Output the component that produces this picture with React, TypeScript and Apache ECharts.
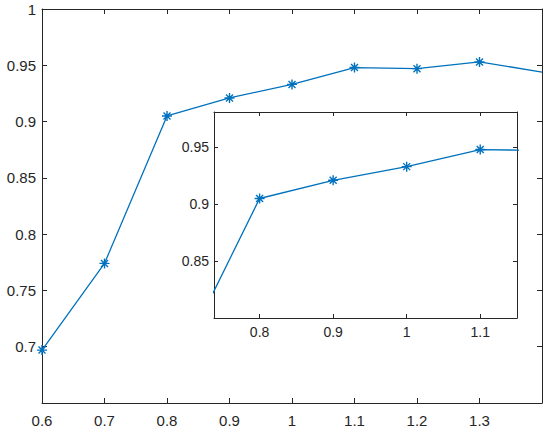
import React, { useEffect, useRef } from 'react';
import * as echarts from 'echarts';

// x values (main plot) and measured accuracy
const xValues = [0.6, 0.7, 0.8, 0.9, 1.0, 1.1, 1.2, 1.3, 1.4];
const accuracy = [0.697, 0.774, 0.905, 0.921, 0.933, 0.948, 0.947, 0.953, 0.944];

// axis ranges
const mainX = [0.6, 1.4];
const mainY = [0.65, 1];
const insetX = [0.738, 1.15];
const insetY = [0.8, 0.981];

const AXIS = '#262626';
const BLUE = '#0072BD';
const FONT = 'Liberation Sans';
const STAR = 'path://M0,5L10,5M5,0L5,10M1.5,1.5L8.5,8.5M1.5,8.5L8.5,1.5';

const pairs = xValues.map((x, i) => [x, accuracy[i]]);

const boxAxis = (gridIndex: number, position: string, range: number[], interval: number, tickLen: number, extra: any = {}) => ({
  type: 'value',
  gridIndex,
  position,
  min: range[0],
  max: range[1],
  interval,
  axisLine: { show: true, onZero: false, lineStyle: { color: AXIS, width: 1 } },
  axisTick: { show: true, inside: true, length: tickLen, lineStyle: { color: AXIS } },
  axisLabel: { show: false },
  splitLine: { show: false },
  ...extra,
});

export default function App() {
  const chartRef = useRef<HTMLDivElement>(null);

  useEffect(() => {
    document.body.style.margin = '0';
    const chart = echarts.init(chartRef.current, null, { renderer: 'svg' });

    const mainLabel = { show: true, color: AXIS, fontFamily: FONT, fontSize: 15 };
    const insetLabel = { show: true, color: AXIS, fontFamily: FONT, fontSize: 14 };

    const insetXAxis = (position: string, label: any) => {
      const a: any = boxAxis(1, position, insetX, 0.1, 4, { axisLabel: label });
      delete a.interval;
      a.minInterval = 0.1;
      a.maxInterval = 0.1;
      return a;
    };

    const line = (xi: number, yi: number) => ({
      type: 'line',
      xAxisIndex: xi,
      yAxisIndex: yi,
      data: pairs,
      clip: true,
      symbol: STAR,
      symbolSize: (_v: any, p: any) => (p.dataIndex === xValues.length - 1 ? 0 : 10),
      showAllSymbol: true,
      lineStyle: { color: BLUE, width: 1.3 },
      itemStyle: { color: BLUE, borderColor: BLUE, borderWidth: 1.4 },
      z: 3,
    });

    chart.setOption({
      animation: false,
      backgroundColor: '#fff',
      grid: [
        { left: 42, top: 9, right: 8, bottom: 33, containLabel: false },
        {
          left: 214, top: 112, right: 33, bottom: 118, containLabel: false,
          show: true, backgroundColor: '#fff', borderWidth: 0, z: 5,
        },
      ],
      xAxis: [
        boxAxis(0, 'bottom', mainX, 0.1, 5, {
          axisLabel: { ...mainLabel, margin: 10, showMaxLabel: false },
        }),
        boxAxis(0, 'top', mainX, 0.1, 5),
        { ...insetXAxis('bottom', { ...insetLabel, margin: 7, showMinLabel: false, showMaxLabel: false }), z: 6 },
        { ...insetXAxis('top', { show: false }), z: 6 },
      ],
      yAxis: [
        boxAxis(0, 'left', mainY, 0.05, 5, {
          axisLabel: { ...mainLabel, margin: 6, showMinLabel: false },
        }),
        boxAxis(0, 'right', mainY, 0.05, 5),
        boxAxis(1, 'left', insetY, 0.05, 4, {
          z: 6,
          axisLabel: { ...insetLabel, margin: 5, showMinLabel: false, showMaxLabel: false },
        }),
        boxAxis(1, 'right', insetY, 0.05, 4, { z: 6 }),
      ],
      series: [
        line(0, 0),
        { ...line(2, 2), z: 7 },
      ],
    });

    return () => {
      chart.dispose();
    };
  }, []);

  return <div ref={chartRef} style={{ width: 550, height: 436 }} />;
}
